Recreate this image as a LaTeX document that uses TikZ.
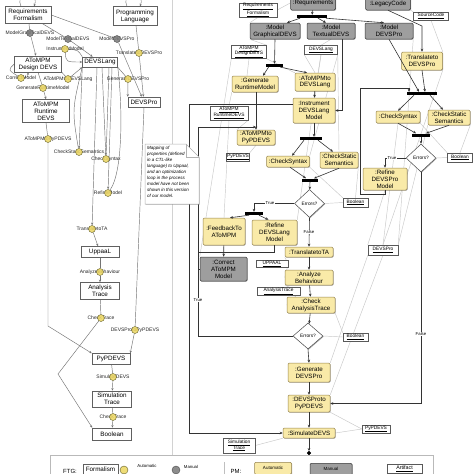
\documentclass[tikz,border=0pt]{standalone}
\usepackage{fontspec}
\setmainfont{Liberation Sans}
\usetikzlibrary{shapes.geometric,shadows,arrows.meta}
\pgfdeclarelayer{bg}
\pgfdeclarelayer{fg}
\pgfsetlayers{bg,main,fg}
\definecolor{actyel}{RGB}{249,234,168}
\definecolor{actedge}{RGB}{150,132,80}
\definecolor{mangray}{RGB}{158,158,158}
\definecolor{trcirc}{RGB}{236,214,96}
\definecolor{trmcirc}{RGB}{120,120,120}
\definecolor{datagray}{RGB}{200,200,200}
\newcommand{\mytrans}[4]{\node[trl] at (#2) {#4}; \node[#3] (#1) at (#2) {};}
\tikzset{
  shd/.style={drop shadow={shadow xshift=0.7pt,shadow yshift=-0.7pt,opacity=0.35,fill=black}},
  ftgbox/.style={rectangle, draw=gray!75!black, fill=white, line width=0.5pt, align=center, inner sep=0.8pt, font=\fontsize{6.3}{7}\selectfont, shd},
  tra/.style={circle, draw=olive!60!black, fill=trcirc, fill opacity=0.85, minimum size=7pt, inner sep=0pt, line width=0.4pt},
  trm/.style={tra, fill=trmcirc, draw=black!70},
  trl/.style={font=\fontsize{5}{5}\selectfont, inner sep=0pt, text=black!85},
  ftge/.style={draw=black!55, line width=0.45pt, -{Stealth[length=2.6pt,width=2.2pt]}},
  ftgl/.style={draw=black!55, line width=0.45pt},
  act/.style={rectangle, rounded corners=1.2pt, draw=actedge, fill=actyel, line width=0.5pt, align=center, inner sep=0.6pt, font=\fontsize{6.2}{6.9}\selectfont, shd},
  man/.style={act, draw=gray!45!black, fill=mangray},
  art/.style={rectangle, draw=gray!70!black, fill=white, line width=0.45pt, align=center, inner sep=0.6pt, font=\fontsize{4.8}{5.6}\selectfont, shd},
  bar/.style={rectangle, fill=black, draw=none, minimum height=3pt, inner sep=0pt},
  dec/.style={diamond, aspect=1, draw=gray!60!black, fill=white, line width=0.5pt, minimum width=30pt, minimum height=28pt, inner sep=0pt, font=\fontsize{4.8}{5}\selectfont, shd},
  fl/.style={draw=black!80, line width=0.6pt, -{Stealth[length=3pt,width=2.6pt]}},
  fll/.style={draw=black!80, line width=0.6pt},
  dfl/.style={draw=datagray, line width=0.45pt},
  lbl/.style={font=\fontsize{4.3}{5}\selectfont, fill=white, inner sep=0.5pt},
}
\begin{document}
\begin{tikzpicture}[x=1pt,y=-1pt]
\useasboundingbox (0,0) rectangle (474,474);
\begin{pgfonlayer}{bg}
\fill[white] (0,0) rectangle (474,474);
\end{pgfonlayer}

% ================= FTG =================
\node[ftgbox, minimum width=46pt, minimum height=17pt] (rf) at (28,15) {Requirements\\Formalism};
\node[ftgbox, minimum width=44pt, minimum height=19pt] (pl) at (135,16) {Programming\\Language};
\node[ftgbox, minimum width=47pt, minimum height=16pt] (add) at (38,64) {AToMPM\\Design DEVS};
\node[ftgbox, minimum width=35pt, minimum height=10pt] (dl) at (100,62) {DEVSLang};
\node[ftgbox, minimum width=47pt, minimum height=23pt] (ard) at (46,111) {AToMPM\\Runtime\\DEVS};
\node[ftgbox, minimum width=32pt, minimum height=10pt] (dp) at (144,102) {DEVSPro};
\node[ftgbox, minimum width=38pt, minimum height=11pt] (upl) at (100,252) {UppaaL};
\node[ftgbox, minimum width=39pt, minimum height=17pt] (atr) at (100,291) {Analysis\\Trace};
\node[ftgbox, minimum width=38pt, minimum height=11pt] (py) at (111,359) {PyPDEVS};
\node[ftgbox, minimum width=39pt, minimum height=16pt] (st) at (112,399) {Simulation\\Trace};
\node[ftgbox, minimum width=39pt, minimum height=12pt] (bo) at (112,434) {Boolean};

\mytrans{t1}{30,33}{trm}{ModelGraphicalDEVS}
\mytrans{t2}{68,39}{trm}{ModelTextualDEVS}
\mytrans{t3}{117,39}{trm}{ModelDEVSPro}
\mytrans{t4}{65,49}{tra}{InstrumentModel}
\mytrans{t5}{139,53}{tra}{TranslatetoDEVSPro}
\mytrans{t6}{21,78}{tra}{CorrectModel}
\mytrans{t7}{68,79}{tra}{AToMPMtoDEVSLang}
\mytrans{t8}{43,88}{tra}{GenerateRuntimeModel}
\mytrans{t9}{128,79}{tra}{GenerateDEVSPro}
\mytrans{t10}{48,139}{tra}{AToMPMtoPyPDEVS}
\mytrans{t11}{79,152}{tra}{CheckStaticSemantics}
\mytrans{t12}{106,159}{tra}{CheckSyntax}
\mytrans{t13}{108,193}{tra}{RefineModel}
\mytrans{t14}{92,229}{tra}{TranslatetoTA}
\mytrans{t15}{100,272}{tra}{AnalyzeBehaviour}
\mytrans{t16}{101,318}{tra}{CheckTrace}
\mytrans{t17}{135,330}{tra}{DEVSProtoPyPDEVS}
\mytrans{t18}{113,377}{tra}{SimulateDEVS}
\mytrans{t19}{113,417}{tra}{CheckTrace}

\begin{pgfonlayer}{bg}
\draw[gray!35, line width=0.7pt] (172,0) -- (172,455);
\draw[ftgl] (rf) -- (t1); \draw[ftge] (t1) -- (add);
\draw[ftgl] (rf) -- (t2); \draw[ftge] (t2) -- (dl);
\draw[ftgl] (rf.east) -- (t3); \draw[ftge] (t3) -- (dp);
\draw[ftgl] (pl) -- (t5); \draw[ftge] (t5) -- (dp);
\draw[ftgl] (dl.north west) .. controls (78,50) .. (t4);
\draw[ftge] (t4) .. controls (66,62) .. (dl.west);
\draw[ftgl] (add.west) .. controls (8,70) .. (t6);
\draw[ftge] (t6) .. controls (28,77) .. ([xshift=-10pt]add.south);
\draw[ftgl] (add.south east) -- (t7); \draw[ftge] (t7) -- (dl.south west);
\draw[ftgl] (add.south) -- (t8); \draw[ftge] (t8) -- (ard.north);
\draw[ftgl] (dl.south east) -- (t9); \draw[ftge] (t9) -- (dp.north west);
\draw[ftgl] (ard.south) -- (t10); \draw[ftge] (t10) -- (48,326) -- (py.north west);
\draw[ftge] (dl.south west) -- (t11);
\draw[ftgl] (t11) .. controls (72,110) .. (dl.south west);
\draw[ftge] ([xshift=2pt]dl.south) -- (t12);
\draw[ftgl] (t12) -- ([xshift=9pt]dl.south);
\draw[ftge] ([xshift=12pt]dl.south) -- (t13);
\draw[ftgl] (t13) .. controls (124,170) and (122,100) .. (dl.south east);
\draw[ftge] ([xshift=-3pt]dl.south) -- (t14);
\draw[ftge] (t14) -- (upl);
\draw[ftgl] (upl) -- (t15); \draw[ftge] (t15) -- (atr);
\draw[ftgl] (atr) -- (t16); \draw[ftge] (t16) -- (58,374) -- (bo.north west);
\draw[ftgl] (dp.south) -- (t17); \draw[ftge] (t17) -- (py.north east);
\draw[ftgl] (py) -- (t18); \draw[ftge] (t18) -- (st);
\draw[ftgl] (st) -- (t19); \draw[ftge] (t19) -- (bo);
\draw[ftgl] (21,6.5) .. controls (19,0) .. (25,-5);
\draw[ftge] (31,-5) .. controls (36,0) .. (34,6.5);
\draw[ftgl] (127,6.5) .. controls (125,0) .. (131,-5);
\draw[ftge] (137,-5) .. controls (142,0) .. (140,6.5);
\end{pgfonlayer}

% ================= PM =================
\node[art, minimum width=38pt, minimum height=14pt] (arf) at (258,10) {\underline{Requirements}\\\underline{Formalism}};
\node[man, minimum width=45pt, minimum height=14pt] (req) at (313,3) {:Requirements};
\node[man, minimum width=45pt, minimum height=13pt] (lc) at (388,3.5) {:LegacyCode};
\node[art, minimum width=35pt, minimum height=8pt] (asc) at (431,16) {\underline{SourceCode}};
\node[bar, minimum width=30pt] (b1) at (312,16.5) {};
\node[man, minimum width=50pt, minimum height=16pt] (mg) at (275,31) {:Model\\GraphicalDEVS};
\node[man, minimum width=48pt, minimum height=16pt] (mt) at (331,31) {:Model\\TextualDEVS};
\node[man, minimum width=48pt, minimum height=16pt] (md) at (389,31) {:Model\\DEVSPro};
\node[art, minimum width=35pt, minimum height=13pt] (aadd) at (249,52) {\underline{AToMPM}\\\underline{DesignDEVS}};
\node[art, minimum width=33pt, minimum height=9pt] (adl0) at (321,50) {\underline{DEVSLang}};
\node[bar, minimum width=17pt] (b2) at (274.5,65.5) {};
\node[act, minimum width=46pt, minimum height=16pt] (grm) at (255,84) {:Generate\\RuntimeModel};
\node[act, minimum width=40pt, minimum height=18pt] (adl) at (315,82) {:AToMPMto\\DEVSLang};
\node[act, minimum width=41pt, minimum height=18pt] (tdp) at (422,61) {:Translateto\\DEVSPro};
\node[bar, minimum width=30pt] (b3) at (422,93.5) {};
\node[art, minimum width=38pt, minimum height=14pt] (aard) at (229,113) {\underline{AToMPM}\\\underline{RuntimeDEVS}};
\node[act, minimum width=42pt, minimum height=25pt] (ins) at (314,110.5) {:Instrument\\DEVSLang\\Model};
\node[bar, minimum width=22pt] (b4) at (311,138.5) {};
\node[act, minimum width=38pt, minimum height=15pt] (apy) at (256,137.5) {:AToMPMto\\PyPDEVS};
\node[art, minimum width=23pt, minimum height=8pt] (apy0) at (238,157) {\underline{PyPDEVS}};
\node[act, minimum width=43pt, minimum height=11pt] (cs1) at (288,161.5) {:CheckSyntax};
\node[act, minimum width=38pt, minimum height=16pt] (css1) at (339,160) {:CheckStatic\\Semantics};
\node[act, minimum width=44pt, minimum height=12pt] (cs2) at (398,117) {:CheckSyntax};
\node[act, minimum width=42pt, minimum height=15pt] (css2) at (449,117.5) {:CheckStatic\\Semantics};
\node[bar, minimum width=18pt] (b5) at (421,135) {};
\node[bar, minimum width=16pt] (b6) at (310,180) {};
\node[dec] (d2) at (421,158) {Errors?};
\node[art, minimum width=25pt, minimum height=9pt] (ab2) at (460,157.5) {\underline{Boolean}};
\node[act, minimum width=44pt, minimum height=22pt] (rdp) at (385,179) {:Refine\\DEVSPro\\Model};
\node[dec] (d1) at (309.5,203.5) {Errors?};
\node[art, minimum width=25pt, minimum height=9pt] (ab1) at (355.5,202.5) {\underline{Boolean}};
\node[bar, minimum width=18pt] (b7) at (254,213.5) {};
\node[act, minimum width=42pt, minimum height=27pt] (fb) at (224,231.5) {:FeedbackTo\\AToMPM};
\node[act, minimum width=45pt, minimum height=25pt] (rdl) at (274.5,232.5) {:Refine\\DEVSLang\\Model};
\node[man, minimum width=47pt, minimum height=24pt] (cam) at (223.5,269) {:Correct\\AToMPM\\Model};
\node[art, minimum width=32pt, minimum height=7pt] (aup) at (272,264) {\underline{UPPAAL}};
\node[act, minimum width=48pt, minimum height=10pt] (tta) at (309,252) {:TranslatetoTA};
\node[act, minimum width=48pt, minimum height=15pt] (ab) at (309,277.5) {:Analyze\\Behaviour};
\node[art, minimum width=43pt, minimum height=7pt] (aat) at (278.5,291.5) {\underline{AnalysisTrace}};
\node[act, minimum width=48pt, minimum height=16pt] (cat) at (311,305) {:Check\\AnalysisTrace};
\node[dec, minimum width=30pt, minimum height=26pt] (d3) at (308,336) {Errors?};
\node[art, minimum width=25pt, minimum height=8pt] (ab3) at (355.5,337) {\underline{Boolean}};
\node[art, minimum width=30pt, minimum height=10pt] (adp) at (383,250) {\underline{DEVSPro}};
\node[act, minimum width=42pt, minimum height=19pt] (gdp) at (309,372.5) {:Generate\\DEVSPro};
\node[act, minimum width=42pt, minimum height=17pt] (dpp) at (309,403.5) {:DEVSProto\\PyPDEVS};
\node[act, minimum width=52pt, minimum height=10pt] (sim) at (309,433) {:SimulateDEVS};
\node[art, minimum width=32pt, minimum height=15pt] (ast) at (239,445.5) {\underline{Simulation}\\\underline{Trace}};
\node[art, minimum width=28pt, minimum height=8pt] (apy2) at (376,429) {\underline{PyPDEVS}};
\node[circle, fill=black, draw=black, minimum size=3.5pt, inner sep=0pt] (fin) at (309,453) {};

\begin{pgfonlayer}{bg}
\draw[dfl] (arf.east) -- (req.west);
\draw[dfl] (arf.south) -- (mg.north west);
\draw[dfl] (mg.south west) -- (aadd.north east);
\draw[dfl] (aadd.south) -- ([xshift=-8pt]grm.north);
\draw[dfl] (aadd.south east) -- (adl.north west);
\draw[dfl] (mt.south) -- (adl0.north);
\draw[dfl] (adl0.south west) -- (adl.north);
\draw[dfl] (adl0.south) -- (ins.north);
\draw[dfl] (adl0.south east) -- (css1.north);
\draw[dfl] (adl0.south east) -- (cs1.north east);
\draw[dfl] (adl0.south) -- (rdl.north east);
\draw[dfl] (lc.south east) -- (asc.north west);
\draw[dfl] (asc.south) -- (tdp.north east);
\draw[dfl] (grm.south west) -- (aard.north);
\draw[dfl] (aard.south east) -- (apy.north west);
\draw[dfl] (apy0.north east) -- (apy.south);
\draw[dfl] (aadd.south west) -- (cam.north west);
\draw[dfl] (aard.south) -- (fb.north);
\draw[dfl] (ab2.west) -- (d2.east);
\draw[dfl] (ab2.north) -- (css2.south east);
\draw[dfl] (ab2.north west) -- (cs2.south east);
\draw[dfl] (ab1.west) -- (d1.east);
\draw[dfl] (ab1.north) -- (css1.south east);
\draw[dfl] (ab1.north west) -- (cs1.south east);
\draw[dfl] (ab3.west) -- (d3.east);
\draw[dfl] (ab3.north west) -- (cat.south east);
\draw[dfl] (aup.east) -- (tta.south west);
\draw[dfl] (aup.east) -- (ab.west);
\draw[dfl] (aat.east) -- (ab.south west);
\draw[dfl] (aat.east) -- (cat.west);
\draw[dfl] (md.south east) -- (adp.north east);
\draw[dfl] (adp.north) -- (cs2.south);
\draw[dfl] (adp.north east) -- (css2.south west);
\draw[dfl] (adp.north west) -- (rdp.south);
\draw[dfl] (adp.north) -- (tdp.south east);
\draw[dfl] (adp.south west) -- (gdp.north east);
\draw[dfl] (adp.south) -- (dpp.north east);
\draw[dfl] (dpp.south east) -- (apy2.west);
\draw[dfl] (apy2.west) -- (sim.east);
\draw[dfl] (sim.south west) -- (ast.east);
\end{pgfonlayer}

% control flow
\draw[fl] (req) -- (b1);
\draw[fl] ([xshift=-12pt]b1.south) -- ([xshift=12pt]mg.north);
\draw[fl] ([xshift=6pt]b1.south) -- ([xshift=-5pt]mt.north);
\draw[fl] ([xshift=14pt]b1.south) -- ([xshift=-5pt]md.north);
\draw[fl] (mg.south) -- (b2);
\draw[fl] ([xshift=-6pt]b2.south) -- ([xshift=8pt]grm.north);
\draw[fl] ([xshift=6pt]b2.south) -- ([xshift=-8pt]adl.north);
\draw[fl] (lc.south) -- (422,26) -- (tdp.north);
\draw[fl] (md.south) -- ([xshift=-3pt]b3.north);
\draw[fl] (tdp.south) -- ([xshift=3pt]b3.north);
\draw[fl] ([xshift=-8pt]b3.south) -- (cs2.north);
\draw[fl] ([xshift=8pt]b3.south) -- ([xshift=-6pt]css2.north);
\draw[fl] (cs2.south) -- ([xshift=-5pt]b5.north);
\draw[fl] (css2.south) -- ([xshift=5pt]b5.north);
\draw[fl] (b5) -- (d2);
\draw[fl] (d2.west) -- (385,158) -- (rdp.north);
\node[lbl] (lt2) at (392,158) {True};
\draw[fl] (rdp.south) -- (385,194) -- (360,194) -- (360,88) -- (409,88) -- ([xshift=-13pt]b3.north);
\draw[fl] (d2.south) -- (421,403.5) -- (dpp.east);
\node[lbl] (lf2) at (421,334) {False};
\draw[fl] (adl) -- (ins);
\draw[fl] (ins.south) -- (ins.south |- b4.north);
\draw[fl] ([xshift=11pt]mt.south) -- (342,110.5) -- (ins.east);
\draw[fl] ([xshift=-7pt]b4.south) -- ([xshift=4pt]cs1.north);
\draw[fl] ([xshift=7pt]b4.south) -- ([xshift=-6pt]css1.north);
\draw[fl] ([xshift=2pt]cs1.south) -- ([xshift=-4pt]b6.north);
\draw[fl] (css1.south) -- ([xshift=4pt]b6.north);
\draw[fl] (b6) -- (d1);
\draw[fl] (d1.west) -- (254,203.5) -- (b7.north);
\node[lbl] (lt1) at (270,203.5) {True};
\draw[fl] ([xshift=-5pt]b7.south) -- ([xshift=6pt]fb.north);
\draw[fl] ([xshift=5pt]b7.south) -- ([xshift=-6pt]rdl.north);
\draw[fl] (fb) -- (cam);
\draw[fl] (d1.south) -- (tta.north);
\node[lbl] (lf1) at (309,232) {False};
\draw[fl] (tta) -- (ab);
\draw[fl] (ab) -- (cat);
\draw[fl] (cat) -- (d3);
\draw[fl] (d3.south) -- (gdp.north);
\draw[fl] (gdp) -- (dpp);
\draw[fl] (dpp) -- (sim);
\draw[fl] (sim) -- (fin);
\draw[fl] (grm.south -| apy.north) -- (apy.north);
\draw[fl] (d3.west) -- (198,336) -- (198,127) -- (256,127);
\node[lbl] (lt3) at (198,300) {True};
\draw[fll] (cam.west) -- (198,269);
\draw[fll] (rdl.south) -- (274.5,252) -- (198,252);
\draw[fl] ([yshift=6.5pt]ins.west) -- (189,104) -- (189,433) -- (sim.west);

% note
\begin{pgfonlayer}{fg}
\draw[gray!60, fill=white, line width=0.5pt, shd] (145,144) -- (186,144) -- (199,157) -- (199,204) -- (145,204) -- cycle;
\draw[gray!60, line width=0.5pt] (186,144) -- (186,157) -- (199,157);
\node[font=\fontsize{4.5}{6}\selectfont\itshape, align=left, inner sep=0pt, anchor=north west] (notetext) at (147,146.5) {Mapping of\\properties (defined\\in a CTL-like\\language) to Uppaal,\\and an optimization\\loop in the process\\model have not been\\shown in this version\\of our model.};
\end{pgfonlayer}

% legend
\draw[gray!55, fill=white, line width=0.5pt, shd] (50,455) rectangle (433,484);
\node[font=\fontsize{6}{7}\selectfont] (lg1) at (70,471) {FTG:};
\node[ftgbox, minimum width=35pt, minimum height=10pt] (lg2) at (100.5,469) {Formalism};
\node[tra, minimum size=8pt] (lg3) at (124,470) {};
\node[font=\fontsize{4.3}{5}\selectfont] (lg4) at (147,466) {Automatic};
\node[trm, minimum size=8pt] (lg5) at (176,470) {};
\node[font=\fontsize{4.3}{5}\selectfont] (lg6) at (191,467) {Manual};
\draw[gray!50, line width=0.5pt] (224,462) -- (224,474);
\node[font=\fontsize{6}{7}\selectfont] (lg7) at (236,471) {PM:};
\node[act, minimum width=37pt, minimum height=12pt, anchor=north, font=\fontsize{4.5}{5}\selectfont] (lg8) at (273,462) {Automatic};
\node[man, minimum width=42pt, minimum height=12pt, anchor=north, font=\fontsize{4.5}{5}\selectfont] (lg9) at (331,463) {Manual};
\node[art, minimum width=35pt, minimum height=9pt, anchor=north, font=\fontsize{5.3}{6}\selectfont] (lg10) at (404.5,464) {\underline{Artifact}};
\end{tikzpicture}
\end{document}
